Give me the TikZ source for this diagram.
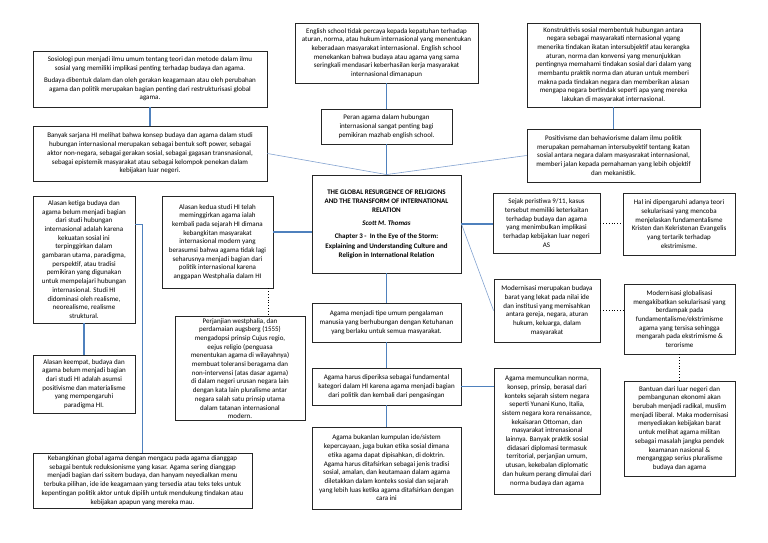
\documentclass[tikz,border=0pt]{standalone}
\usepackage{fontspec}
\setmainfont{Carlito}
\usetikzlibrary{positioning,calc}
\definecolor{linkblue}{RGB}{79,129,189}
\definecolor{thinblue}{RGB}{130,162,208}
\tikzset{
    textbox/.style={rectangle, draw=black!85, fill=white, line width=0.9pt, align=center, inner sep=2pt, font=\fontsize{7}{8.7}\selectfont},
    titlebox/.style={textbox, font=\fontsize{7}{9.4}\selectfont\bfseries},
    link/.style={line width=1.6pt, linkblue},
    thinlink/.style={line width=0.6pt, thinblue},
    dotlink/.style={line width=0.8pt, black, dotted},
}
\begin{document}
\begin{tikzpicture}[x=1pt, y=-1pt]
    \useasboundingbox (0,0) rectangle (768,543);

    % Title
    \node[titlebox, minimum width=149pt, minimum height=98pt] (TITLE) at (386.5,224)
        {THE GLOBAL RESURGENCE OF RELIGIONS\\AND THE TRANSFORM OF INTERNATIONAL\\RELATION\\[3.5pt]
         \textit{Scott M. Thomas}\\[3.5pt]
         Chapter 3 -\ \ In the Eye of the Storm:\\Explaining and Understanding Culture and\\Religion in International Relation};

    % Top row
    \node[textbox, minimum width=183pt, minimum height=60pt] (ES) at (386.5,53)
        {English school tidak percaya kepada kepatuhan terhadap\\aturan, norma, atau hukum internasional yang menentukan\\keberadaan masyarakat internasional. English school\\menekankan bahwa budaya atau agama yang sama\\seringkali mendasari keberhasilan kerja masyarakat\\internasional dimanapun};
    \node[textbox, minimum width=173pt, minimum height=84pt] (KS) at (613.5,65)
        {Konstruktivis sosial membentuk hubungan antara\\negara sebagai masyarakati nternasional yqang\\menerika tindakan ikatan intersubjektif atau kerangka\\aturan, norma dan konvensi yang menunjukkan\\pentingnya memahami tindakan sosial dari dalam yang\\membantu praktik norma dan aturan untuk memberi\\makna pada tindakan negara dan memberikan alasan\\mengapa negara bertindak seperti apa yang mereka\\lakukan di masyarakat internasional.};
    \node[textbox, minimum width=234pt, minimum height=56pt] (SOS) at (150,79)
        {Sosiologi pun menjadi ilmu umum tentang teori dan metode dalam ilmu\\sosial yang memiliki implikasi penting terhadap budaya dan agama.\\[3pt]
         Budaya dibentuk dalam dan oleh gerakan keagamaan atau oleh perubahan\\agama dan politik merupakan bagian penting dari restrukturisasi global\\agama.};
    \node[textbox, minimum width=131pt, minimum height=35pt] (PERAN) at (386.5,126.5)
        {Peran agama dalam hubungan\\internasional sangat penting bagi\\pemikiran mazhab english school.};
    \node[textbox, minimum width=234pt, minimum height=55pt] (BANYAK) at (150,153.5)
        {Banyak sarjana HI melihat bahwa konsep budaya dan agama dalam studi\\hubungan internasional merupakan sebagai bentuk soft power, sebagai\\aktor non-negara, sebagai gerakan sosial, sebagai gagasan transnasional,\\sebagai epistemik masyarakat atau sebagai kelompok penekan dalam\\kebijakan luar negeri.};
    \node[textbox, minimum width=173pt, minimum height=53pt] (POS) at (613.5,155.5)
        {Positivisme dan behaviorisme dalam ilmu politik\\merupakan pemahaman intersubyektif tentang ikatan\\sosial antara negara dalam masyasrakat internasional,\\memberi jalan kepada pemahaman yang lebih objektif\\dan mekanistik.};

    % Left side
    \node[textbox, minimum width=102pt, minimum height=127pt] (KETIGA) at (84,259.5)
        {Alasan ketiga budaya dan\\agama belum menjadi bagian\\dari studi hubungan\\internasional adalah karena\\kekuatan sosial ini\\terpinggirkan dalam\\gambaran utama, paradigma,\\perspektif, atau tradisi\\pemikiran yang digunakan\\untuk mempelajari hubungan\\internasional. Studi HI\\didominasi oleh realisme,\\neorealisme, realisme\\struktural.};
    \node[textbox, minimum width=111pt, minimum height=92pt] (KEDUA) at (217.5,242)
        {Alasan kedua studi HI telah\\meminggirkan agama ialah\\kembali pada sejarah HI dimana\\kebangkitan masyarakat\\internasional modern yang\\berasumsi bahwa agama tidak lagi\\seharusnya menjadi bagian dari\\politik internasional karena\\anggapan Westphalia dalam HI};
    \node[textbox, minimum width=130pt, minimum height=103pt] (PERJ) at (240,368.5)
        {Perjanjian westphalia, dan\\perdamaian augsberg (1555)\\mengadopsi prinsip Cujus regio,\\eejus religio (penguasa\\menentukan agama di wilayahnya)\\membuat toleransi beragama dan\\non-intervensi (atas dasar agama)\\di dalam negeri urusan negara lain\\dengan kata lain pluralisme antar\\negara salah satu prinsip utama\\dalam tatanan internasional\\modern.};
    \node[textbox, minimum width=102pt, minimum height=58pt] (KEEMPAT) at (84,384)
        {Alasan keempat, budaya dan\\agama belum menjadi bagian\\dari studi HI adalah asumsi\\positivisme dan materialisme\\yang mempengaruhi\\paradigma HI.};
    \node[textbox, minimum width=219pt, minimum height=55pt] (KEBANG) at (142.5,480.5)
        {Kebangkinan global agama dengan mengacu pada agama dianggap\\sebagai bentuk reduksionisme yang kasar. Agama sering dianggap\\menjadi bagian dari ssitem budaya, dan hanyam neyedialkan menu\\terbuka pilihan, ide ide keagamaan yang tersedia atau teks teks untuk\\kepentingan politik aktor untuk dipilih untuk mendukung tindakan atau\\kebijakan apapun yang mereka mau.};

    % Middle column
    \node[textbox, minimum width=149pt, minimum height=39pt] (AGM1) at (386.5,322.5)
        {Agama menjadi tipe umum pengalaman\\manusia yang berhubungan dengan Ketuhanan\\yang berlaku untuk semua masyarakat.};
    \node[textbox, minimum width=149pt, minimum height=37pt] (AGM2) at (386.5,386.5)
        {Agama harus diperiksa sebagai fundamental\\kategori dalam HI karena agama menjadi bagian\\dari politik dan kembali dari pengasingan};
    \node[textbox, minimum width=149pt, minimum height=82pt] (AGM3) at (386.5,468)
        {Agama bukanlan kumpulan ide/sistem\\kepercayaan, juga bukan etika sosial dimana\\etika agama dapat dipisahkan, di doktrin.\\Agama harus ditafsirkan sebagai jenis tradisi\\sosial, amalan, dan keutamaan dalam agama\\diletakkan dalam konteks sosial dan sejarah\\yang lebih luas ketika agama ditafsirkan dengan\\cara ini};

    % Right side
    \node[textbox, minimum width=107pt, minimum height=60pt] (SEJAK) at (546.5,223)
        {Sejak peristiwa 9/11, kasus\\tersebut memiliki keterkaitan\\terhadap budaya dan agama\\yang menimbulkan implikasi\\terhadap kebijakan luar negeri\\AS};
    \node[textbox, minimum width=112pt, minimum height=62pt] (HAL) at (679,224)
        {Hal ini dipengaruhi adanya teori\\sekularisasi yang mencoba\\menjelaskan fundamentalisme\\Kristen dan Kekristenan Evangelis\\yang tertarik terhadap\\ekstrimisme.};
    \node[textbox, minimum width=106pt, minimum height=63pt] (MOD) at (547,310.5)
        {Modernisasi merupakan budaya\\barat yang lekat pada nilai ide\\dan institusi yang memisahkan\\antara gereja, negara, aturan\\hukum, keluarga, dalam\\masyarakat};
    \node[textbox, minimum width=111pt, minimum height=70pt] (MG) at (679.5,319)
        {Modernisasi globalisasi\\mengakibatkan sekularisasi yang\\berdampak pada\\fundamentalisme/ekstrimisme\\agama yang tersisa sehingga\\mengarah pada ekstrimisme \&\\terorisme};
    \node[textbox, minimum width=106pt, minimum height=126pt] (MEM) at (547,431)
        {Agama memunculkan norma,\\konsep, prinsip, berasal dari\\konteks sejarah sistem negara\\seperti Yunani Kuno, Italia,\\sistem negara kora renaissance,\\kekaisaran Ottoman, dan\\masyarakat intrenasional\\lainnya. Banyak praktik sosial\\didasari diplomasi termasuk\\territorial, perjanjian umum,\\utusan, kekebalan diplomatic\\dan hukum perang dimulai dari\\norma budaya dan agama};
    \node[textbox, minimum width=111pt, minimum height=95pt] (BANT) at (679.5,428.5)
        {Bantuan dari luar negeri dan\\pembangunan ekonomi akan\\berubah menjadi radikal, muslim\\menjadi liberal. Maka modernisasi\\menyediakan kebijakan barat\\untuk melihat agama militan\\sebagai masalah jangka pendek\\keamanan nasional \&\\menganggap serius pluralisme\\budaya dan agama};

    % Connections
    \draw[link] (SOS) -- (BANYAK);
    \draw[link] (ES) -- (PERAN);
    \draw[link] (PERAN) -- (TITLE);
    \draw[link] (KS) -- (POS);
    \draw[thinlink] (BANYAK.east) -- (TITLE.north);
    \draw[thinlink] (POS.west) -- (TITLE.north);
    \draw[link] ([yshift=10pt]KEDUA.east) -- ([yshift=10pt]KEDUA.east -| TITLE.west);
    \draw[link] (TITLE.east) -- (TITLE.east -| SEJAK.west);
    \draw[thinlink] (TITLE.east) -- (MOD.west);
    \draw[link] (TITLE) -- (AGM1);
    \draw[link] (AGM1) -- (AGM2);
    \draw[link] (AGM2) -- (AGM3);
    \draw[link] (AGM2.east) -- (AGM2.east -| MEM.west);
    \draw[link] (KETIGA) -- (KEEMPAT);
    \draw[link] ([yshift=-29pt]KETIGA.north east) -| (KEBANG.north);

    % Dotted connections
    \draw[dotlink] (SEJAK.east) -- (SEJAK.east -| HAL.west);
    \draw[dotlink] (MOD.east) -- (MOD.east -| MG.west);
    \draw[dotlink] (MG.south) -- (MG.south |- BANT.north);
    \draw[dotlink] ([xshift=-5pt]KEDUA.south east) -- ([xshift=-5pt]KEDUA.south east |- PERJ.north);
\end{tikzpicture}
\end{document}
